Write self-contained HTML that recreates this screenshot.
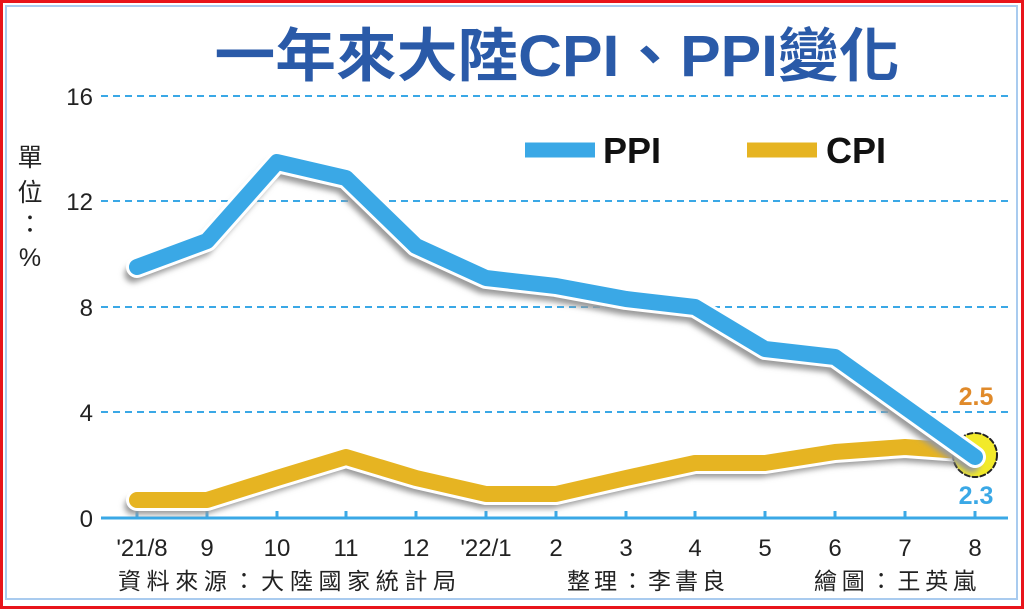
<!DOCTYPE html><html><head><meta charset="utf-8"><style>body{margin:0;background:#fff}svg{display:block}</style></head><body>
<svg width="1024" height="609" viewBox="0 0 1024 609" xmlns="http://www.w3.org/2000/svg" font-family="Liberation Sans, Noto Sans CJK TC, sans-serif">
<rect x="0" y="0" width="1024" height="609" fill="#fff"/>
<rect x="1.5" y="1.5" width="1021" height="606" fill="none" stroke="#e8141b" stroke-width="3"/>
<rect x="6" y="6" width="1011" height="593" fill="none" stroke="#a9cbef" stroke-width="2"/>
<text x="557" y="76" text-anchor="middle" font-size="58" font-weight="bold" fill="#2a5aa8" textLength="685" lengthAdjust="spacingAndGlyphs">一年來大陸CPI、PPI變化</text>
<g stroke="#3aa8e6" stroke-width="2" stroke-dasharray="7,5">
<line x1="101" y1="96" x2="1008" y2="96"/><line x1="101" y1="201" x2="1008" y2="201"/><line x1="101" y1="307" x2="1008" y2="307"/><line x1="101" y1="412" x2="1008" y2="412"/></g>
<g font-size="24" fill="#222" text-anchor="end"><text x="93" y="105">16</text><text x="93" y="210">12</text><text x="93" y="316">8</text><text x="93" y="421">4</text><text x="93" y="527">0</text></g>
<g font-size="25" fill="#222" text-anchor="middle"><text x="30" y="166">單</text><text x="30" y="201">位</text><text x="30" y="233">：</text><text x="30" y="266">%</text></g>
<line x1="101" y1="518" x2="1008" y2="518" stroke="#3aa8e6" stroke-width="3"/>
<g stroke="#3aa8e6" stroke-width="3">
<line x1="137" y1="518" x2="137" y2="511"/><line x1="207" y1="518" x2="207" y2="511"/><line x1="277" y1="518" x2="277" y2="511"/><line x1="346" y1="518" x2="346" y2="511"/><line x1="416" y1="518" x2="416" y2="511"/><line x1="486" y1="518" x2="486" y2="511"/><line x1="556" y1="518" x2="556" y2="511"/><line x1="626" y1="518" x2="626" y2="511"/><line x1="695" y1="518" x2="695" y2="511"/><line x1="765" y1="518" x2="765" y2="511"/><line x1="835" y1="518" x2="835" y2="511"/><line x1="905" y1="518" x2="905" y2="511"/><line x1="975" y1="518" x2="975" y2="511"/></g>
<g font-size="24" fill="#222" text-anchor="middle"><text x="142" y="556">'21/8</text><text x="207" y="556">9</text><text x="277" y="556">10</text><text x="346" y="556">11</text><text x="416" y="556">12</text><text x="486" y="556">'22/1</text><text x="556" y="556">2</text><text x="626" y="556">3</text><text x="695" y="556">4</text><text x="765" y="556">5</text><text x="835" y="556">6</text><text x="905" y="556">7</text><text x="975" y="556">8</text></g>
<g font-size="23" fill="#222"><text x="118" y="589" textLength="338" lengthAdjust="spacing">資料來源：大陸國家統計局</text><text x="567" y="589" textLength="158" lengthAdjust="spacing">整理：李書良</text><text x="814" y="589" textLength="162" lengthAdjust="spacing">繪圖：王英嵐</text></g>
<defs><filter id="sh" x="-10%" y="-10%" width="120%" height="130%"><feGaussianBlur stdDeviation="3"/></filter></defs>
<g fill="none" stroke-linejoin="round" stroke-linecap="round">
<polyline transform="translate(-4,6)" filter="url(#sh)" stroke="#999" stroke-width="17" points="137,500 207,500 277,478 346,457 416,478 486,494 556,494 626,478 695,463 765,463 835,452 905,447 975,452"/>
<polyline stroke="#fff" stroke-width="22" points="137,500 207,500 277,478 346,457 416,478 486,494 556,494 626,478 695,463 765,463 835,452 905,447 975,452"/>
<polyline stroke="#e6b422" stroke-width="16" points="137,500 207,500 277,478 346,457 416,478 486,494 556,494 626,478 695,463 765,463 835,452 905,447 975,452"/>
<circle cx="975" cy="455" r="22" fill="#f2ea2a" stroke="#222" stroke-width="2" stroke-dasharray="5,3"/>
<polyline transform="translate(-4,7)" filter="url(#sh)" stroke="#999" stroke-width="17" points="137,267 207,241 277,162 346,178 416,246 486,278 556,286 626,299 695,307 765,349 835,357 905,407 975,457"/>
<polyline stroke="#fff" stroke-width="22" points="137,267 207,241 277,162 346,178 416,246 486,278 556,286 626,299 695,307 765,349 835,357 905,407 975,457"/>
<polyline stroke="#3aa8e6" stroke-width="16" points="137,267 207,241 277,162 346,178 416,246 486,278 556,286 626,299 695,307 765,349 835,357 905,407 975,457"/>
</g>
<line x1="525" y1="150" x2="595" y2="150" stroke="#3aa8e6" stroke-width="15"/>
<text x="603" y="163" font-size="36" font-weight="bold" fill="#111">PPI</text>
<line x1="747" y1="150" x2="817" y2="150" stroke="#e6b422" stroke-width="15"/>
<text x="826" y="163" font-size="36" font-weight="bold" fill="#111">CPI</text>
<text x="976" y="405" text-anchor="middle" font-size="25" font-weight="bold" fill="#e08a2a">2.5</text>
<text x="976" y="504" text-anchor="middle" font-size="25" font-weight="bold" fill="#3aa8e6">2.3</text>
</svg></body></html>
